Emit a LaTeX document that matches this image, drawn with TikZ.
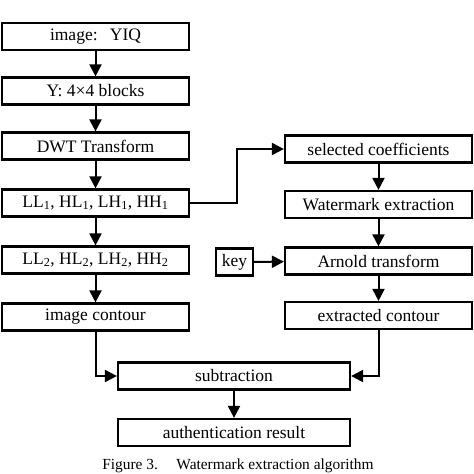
\documentclass[tikz,border=0pt]{standalone}
\usepackage{fontspec}
\setmainfont{Liberation Serif}
\usetikzlibrary{arrows.meta}
\begin{document}
\begin{tikzpicture}[x=1pt,y=-1pt,
  box/.style={draw,line width=2.2pt,minimum height=27pt,inner sep=0pt,font=\fontsize{17.5}{20}\selectfont},
  lbox/.style={box,minimum width=187pt},
  rbox/.style={box,minimum width=187pt},
  conn/.style={line width=2pt,-{Triangle[length=12pt,width=12pt]}},
  plain/.style={line width=2pt}]
\useasboundingbox (0,0) rectangle (474,474);
\node[lbox] (img) at (95.5,36.5) {image:\hspace{0.7em}YIQ};
\node[lbox] (y4) at (95.5,91) {Y: 4×4 blocks};
\node[lbox] (dwt) at (95.5,146) {DWT Transform};
\node[lbox] (ll1) at (95.5,203) {LL\textsubscript{1}, HL\textsubscript{1}, LH\textsubscript{1}, HH\textsubscript{1}};
\node[lbox] (ll2) at (95.5,260) {LL\textsubscript{2}, HL\textsubscript{2}, LH\textsubscript{2}, HH\textsubscript{2}};
\node[lbox] (cont) at (95.5,317) {image contour};
\node[rbox] (sel) at (378.5,149) {selected coefficients};
\node[rbox] (wm) at (378.5,204.5) {Watermark extraction};
\node[rbox] (arn) at (378.5,261) {Arnold transform};
\node[rbox] (ext) at (378.5,315.5) {extracted contour};
\node[box,minimum width=37pt] (key) at (234.5,262) {key};
\node[box,minimum width=232pt] (sub) at (234,376) {subtraction};
\node[box,minimum width=232pt] (auth) at (234,432.5) {authentication result};
\node[font=\fontsize{15.4}{18}\selectfont] (cap) at (238,466) {Figure 3.\hspace{1.2em}Watermark extraction algorithm};
\coordinate (j) at (237,203);
\draw[conn] (img) -- (y4);
\draw[conn] (y4) -- (dwt);
\draw[conn] (dwt) -- (ll1);
\draw[conn] (ll1) -- (ll2);
\draw[conn] (ll2) -- (cont);
\draw[conn] (ll1.east) -- (j) |- (sel.west);
\draw[conn] (sel) -- (wm);
\draw[conn] (wm) -- (arn);
\draw[conn] (arn) -- (ext);
\draw[conn] (key) -- (arn);
\draw[conn] (cont.south) |- (sub.west);
\draw[conn] (ext.south) |- (sub.east);
\draw[conn] (sub) -- (auth);
\end{tikzpicture}
\end{document}
